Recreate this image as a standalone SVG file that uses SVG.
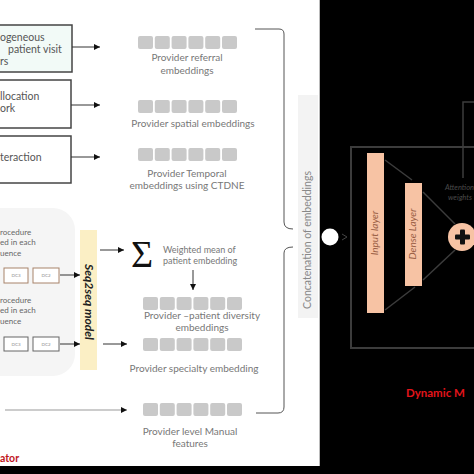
<svg xmlns="http://www.w3.org/2000/svg" width="474" height="474" viewBox="0 0 474 474">
<defs>
<style>
.lbl{font-family:Lato,"Open Sans",sans-serif;font-size:10px;fill:#777;text-anchor:middle}
.box{fill:#fff;stroke:#444;stroke-width:1.5}
.btx{font-family:Lato,"Open Sans",sans-serif;font-size:10.5px;fill:#555}
.ptx{font-family:Lato,"Open Sans",sans-serif;font-size:8px;fill:#666}
.sq{fill:#c9c9c9}
.arr{stroke:#333;stroke-width:1;fill:none;marker-end:url(#ah)}
.dk{stroke:#3c3c3c;stroke-width:1.5;fill:none}
.peach{fill:#f7c3a4}
.ltx{font-family:Lato,"Open Sans",sans-serif;font-size:10px;font-style:italic;fill:#9a5f45;text-anchor:middle}
.red{font-family:Lato,"Liberation Sans",sans-serif;font-weight:bold;font-size:10.5px}
.dc{fill:#fff;stroke-width:1}
.dct{font-family:Lato,sans-serif;font-size:4.5px;fill:#888;text-anchor:middle}
</style>
<marker id="ah" markerWidth="8" markerHeight="8" refX="6" refY="3" orient="auto" markerUnits="userSpaceOnUse">
<path d="M0,0 L6,3 L0,6 Z" fill="#111"/>
</marker>
<g id="sqrow">
<rect class="sq" x="0" y="0" width="15" height="13" rx="2"/>
<rect class="sq" x="16.8" y="0" width="15" height="13" rx="2"/>
<rect class="sq" x="33.6" y="0" width="15" height="13" rx="2"/>
<rect class="sq" x="50.4" y="0" width="15" height="13" rx="2"/>
<rect class="sq" x="67.2" y="0" width="15" height="13" rx="2"/>
<rect class="sq" x="84" y="0" width="15" height="13" rx="2"/>
</g>
</defs>
<rect x="0" y="0" width="474" height="474" fill="#000"/>
<rect x="0" y="0" width="320" height="466" fill="#fff"/>
<line x1="319.5" y1="0" x2="319.5" y2="466" stroke="#bbb" stroke-width="1"/>

<g id="src-visits">
<rect class="box" x="-5" y="25" width="77" height="47" style="fill:#f2faf7"/>
<text class="btx" x="0" y="41">ogeneous</text>
<text class="btx" x="8" y="53">patient visit</text>
<text class="btx" x="0" y="65">rs</text>
</g>
<g id="src-colocation">
<rect class="box" x="-5" y="80" width="76" height="48"/>
<text class="btx" x="0" y="100">llocation</text>
<text class="btx" x="0" y="112">ork</text>
</g>
<g id="src-interaction">
<rect class="box" x="-5" y="136" width="76" height="47"/>
<text class="btx" x="0" y="161">teraction</text>
</g>

<g id="seq-panel">
<rect x="-30" y="208" width="105" height="168" rx="22" fill="#f5f5f5"/>
<text class="ptx" x="0" y="235">rocedure</text>
<text class="ptx" x="0" y="245">ed  in each</text>
<text class="ptx" x="0" y="256">uence</text>
<rect class="dc" x="4" y="268" width="24" height="15" stroke="#a8836b"/>
<text class="dct" x="16" y="277">DC3</text>
<rect class="dc" x="33" y="268" width="26" height="15" stroke="#a8836b"/>
<text class="dct" x="46" y="277">DC2</text>
<text class="ptx" x="0" y="303">rocedure</text>
<text class="ptx" x="0" y="313">ed  in each</text>
<text class="ptx" x="0" y="324">uence</text>
<rect class="dc" x="4" y="337" width="24" height="14" stroke="#666"/>
<text class="dct" x="16" y="346">DC3</text>
<rect class="dc" x="33" y="337" width="26" height="14" stroke="#666"/>
<text class="dct" x="46" y="346">DC2</text>
</g>

<g id="seq2seq">
<rect x="80" y="230" width="17" height="140" fill="#fbefc5"/>
<text x="88.5" y="302" transform="rotate(90 88.5 302)" text-anchor="middle" dominant-baseline="middle" font-family="Lato,sans-serif" font-size="12" font-weight="bold" font-style="italic" fill="#222">Seq2seq model</text>
</g>

<g id="sigma">
<text x="142" y="267" text-anchor="middle" font-family="Liberation Serif,serif" font-size="38" fill="#111">Σ</text>
<text class="ptx" style="font-size:9px;fill:#777" x="163" y="253">Weighted mean of</text>
<text class="ptx" style="font-size:9px;fill:#777" x="163" y="264">patient embedding</text>
</g>

<g id="emb-referral">
<use href="#sqrow" x="138" y="36"/>
<text class="lbl" x="187" y="61">Provider referral</text>
<text class="lbl" x="187" y="74">embeddings</text>
</g>
<g id="emb-spatial">
<use href="#sqrow" x="138" y="100"/>
<text class="lbl" x="193" y="127">Provider spatial embeddings</text>
</g>
<g id="emb-temporal">
<use href="#sqrow" x="138" y="148"/>
<text class="lbl" x="187" y="177">Provider Temporal</text>
<text class="lbl" x="187" y="189">embeddings using CTDNE</text>
</g>
<g id="emb-diversity">
<use href="#sqrow" x="143" y="297"/>
<text class="lbl" x="202" y="319">Provider –patient diversity</text>
<text class="lbl" x="202" y="331">embeddings</text>
</g>
<g id="emb-specialty">
<use href="#sqrow" x="143" y="338"/>
<text class="lbl" x="194" y="372">Provider specialty embedding</text>
</g>
<g id="emb-manual">
<use href="#sqrow" x="143" y="403"/>
<text class="lbl" x="190" y="435">Provider level Manual</text>
<text class="lbl" x="190" y="447">features</text>
</g>

<g id="concat">
<rect x="298" y="95" width="20" height="223" fill="#f3f3f3"/>
<text x="311" y="240" transform="rotate(-90 311 240)" text-anchor="middle" font-family="Lato,sans-serif" font-size="10.5" fill="#888">Concatenation of embeddings</text>
</g>

<g id="connectors">
<line class="arr" x1="72" y1="47" x2="100" y2="47"/>
<line class="arr" x1="71" y1="105" x2="100" y2="105"/>
<line class="arr" x1="71" y1="157" x2="100" y2="157"/>
<line class="arr" x1="60" y1="275" x2="80" y2="275"/>
<line class="arr" x1="60" y1="344" x2="80" y2="344"/>
<line class="arr" x1="100" y1="250" x2="124" y2="250"/>
<line class="arr" x1="193" y1="270" x2="193" y2="290"/>
<line class="arr" x1="103" y1="344" x2="127" y2="344"/>
<line class="arr" x1="5" y1="410" x2="127" y2="410" style="stroke:#999"/>
<path d="M255,29 L279,29 Q284,29 284,34 L284,222 Q284,229 293,229" fill="none" stroke="#555" stroke-width="1"/>
<path d="M293,247 Q284,247 284,253 L284,407 Q284,413 278,413 L256,413" fill="none" stroke="#555" stroke-width="1"/>
</g>

<g id="concat-node">
<circle cx="330" cy="237" r="8.5" fill="#fff"/>
<path d="M342,234 L347,237 L342,240" fill="none" stroke="#444" stroke-width="1"/>
</g>

<g id="dynamic-model">
<rect class="dk" x="351" y="147" width="130" height="201" style="stroke-width:2"/>
<polyline class="dk" points="463,178 463,102 480,102"/>
<line class="dk" x1="385" y1="160" x2="412" y2="180"/>
<line class="dk" x1="423" y1="192" x2="455" y2="224"/>
<line class="dk" x1="385" y1="310" x2="415" y2="287"/>
<line class="dk" x1="423" y1="280" x2="455" y2="250"/>
<rect class="peach" x="367" y="153" width="17" height="160"/>
<text class="ltx" x="375.5" y="233" transform="rotate(-90 375.5 233)" dominant-baseline="middle">Input layer</text>
<rect class="peach" x="405" y="183" width="17" height="103"/>
<text class="ltx" x="413.5" y="234" transform="rotate(-90 413.5 234)" dominant-baseline="middle">Dense Layer</text>
<circle class="peach" cx="462" cy="237" r="14"/>
<rect x="455" y="234.5" width="15" height="5" rx="1" fill="#111"/>
<rect x="460" y="229.5" width="5" height="15" rx="1" fill="#111"/>
<text x="445" y="190" font-family="Lato,sans-serif" font-size="7.5" font-style="italic" fill="#4a4a4a">Attention</text>
<text x="448" y="200" font-family="Lato,sans-serif" font-size="7.5" font-style="italic" fill="#4a4a4a">weights</text>
<text class="red" x="406" y="397" fill="#e3141b" style="font-size:11.5px">Dynamic M</text>
</g>
<text class="red" x="0" y="462" fill="#c0161c">ator</text>
</svg>
